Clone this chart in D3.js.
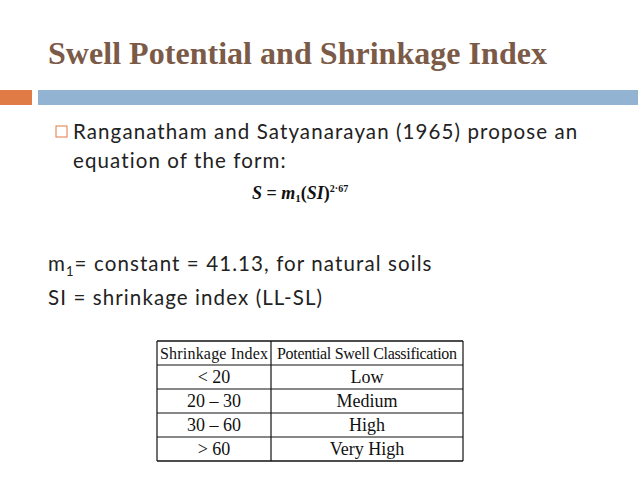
<!DOCTYPE html><html><head><meta charset="utf-8">
<script src="https://cdn.jsdelivr.net/npm/d3@7"></script>
<style>body{margin:0;background:#fff}</style></head><body>
<script>
const title = "Swell Potential and Shrinkage Index";
const headers = ["Shrinkage Index", "Potential Swell Classification"];
const ranges = ["< 20", "20 – 30", "30 – 60", "> 60"];
const classes = ["Low", "Medium", "High", "Very High"];

const W = 638, H = 479;
const svg = d3.select("body").append("svg").attr("width", W).attr("height", H);
svg.append("text").attr("x", 48).attr("y", 64).text(title)
  .attr("font-family", "Liberation Serif").attr("font-weight", "bold")
  .attr("font-size", 32).attr("fill", "#7b5a47").attr("textLength", 499);
svg.append("rect").attr("x", 0).attr("y", 90).attr("width", 32).attr("height", 15).attr("fill", "#e07b46");
svg.append("rect").attr("x", 38).attr("y", 90).attr("width", 600).attr("height", 15).attr("fill", "#93b3d2");

const sans = "Lato";
const ls = 1.1;
svg.append("rect").attr("x", 56).attr("y", 126).attr("width", 11).attr("height", 11)
  .attr("fill", "none").attr("stroke", "#e07b46").attr("stroke-width", 1);
const body = [
  [73, 139, "Ranganatham and Satyanarayan (1965) propose an"],
  [73, 168, "equation of the form:"]
];
body.forEach(d => svg.append("text").attr("x", d[0]).attr("y", d[1]).text(d[2])
  .attr("font-family", sans).attr("font-size", 20.5).attr("letter-spacing", ls).attr("fill", "#222"));

const eq = svg.append("text").attr("x", 252).attr("y", 199).attr("font-family", "Liberation Serif")
  .attr("font-size", 18).attr("font-weight", "bold").attr("fill", "#111");
eq.append("tspan").attr("font-style", "italic").text("S");
eq.append("tspan").text(" = ");
eq.append("tspan").attr("font-style", "italic").text("m");
eq.append("tspan").attr("font-size", 11).attr("dy", 3).text("1");
eq.append("tspan").attr("dy", -3).text("(");
eq.append("tspan").attr("font-style", "italic").text("SI");
eq.append("tspan").text(")");
eq.append("tspan").attr("font-size", 10).attr("dy", -7).text("2·67");

const l3 = svg.append("text").attr("x", 48).attr("y", 271).attr("font-family", sans)
  .attr("font-size", 20.5).attr("letter-spacing", ls).attr("fill", "#222");
l3.append("tspan").text("m");
l3.append("tspan").attr("font-size", 13).attr("dy", 5).text("1");
l3.append("tspan").attr("dy", -5).text("= constant = 41.13, for natural soils");
svg.append("text").attr("x", 48).attr("y", 305).attr("font-family", sans)
  .attr("font-size", 20.5).attr("letter-spacing", ls).attr("fill", "#222").text("SI = shrinkage index (LL-SL)");

// table
const rows = [headers].concat(ranges.map((r, i) => [r, classes[i]]));
const y = d3.scaleBand().domain(d3.range(rows.length)).range([341, 461]);
const x0 = 157, x1 = 271, x2 = 463;
const g = svg.append("g").attr("font-family", "Liberation Serif").attr("fill", "#111");
rows.forEach((r, i) => {
  const fs = i === 0 ? 16 : 18;
  const t0 = g.append("text").attr("x", (x0 + x1) / 2).attr("y", y(i) + y.bandwidth() / 2 + 6)
    .attr("text-anchor", "middle").attr("font-size", fs).text(r[0]);
  const t1 = g.append("text").attr("x", (x1 + x2) / 2).attr("y", y(i) + y.bandwidth() / 2 + 6)
    .attr("text-anchor", "middle").attr("font-size", fs).text(r[1]);
  if (i === 0) { t0.attr("textLength", 108); t1.attr("textLength", 180); }
});
d3.range(rows.length + 1).forEach(i => {
  const yy = i < rows.length ? y(i) : 461;
  svg.append("line").attr("x1", x0).attr("x2", x2).attr("y1", yy).attr("y2", yy)
    .attr("stroke", "#111").attr("stroke-width", i === 0 || i === rows.length ? 1.5 : 1);
});
[x0, x1, x2].forEach(xx => svg.append("line").attr("x1", xx).attr("x2", xx).attr("y1", 341).attr("y2", 461)
  .attr("stroke", "#111").attr("stroke-width", 1.2));
</script></body></html>
